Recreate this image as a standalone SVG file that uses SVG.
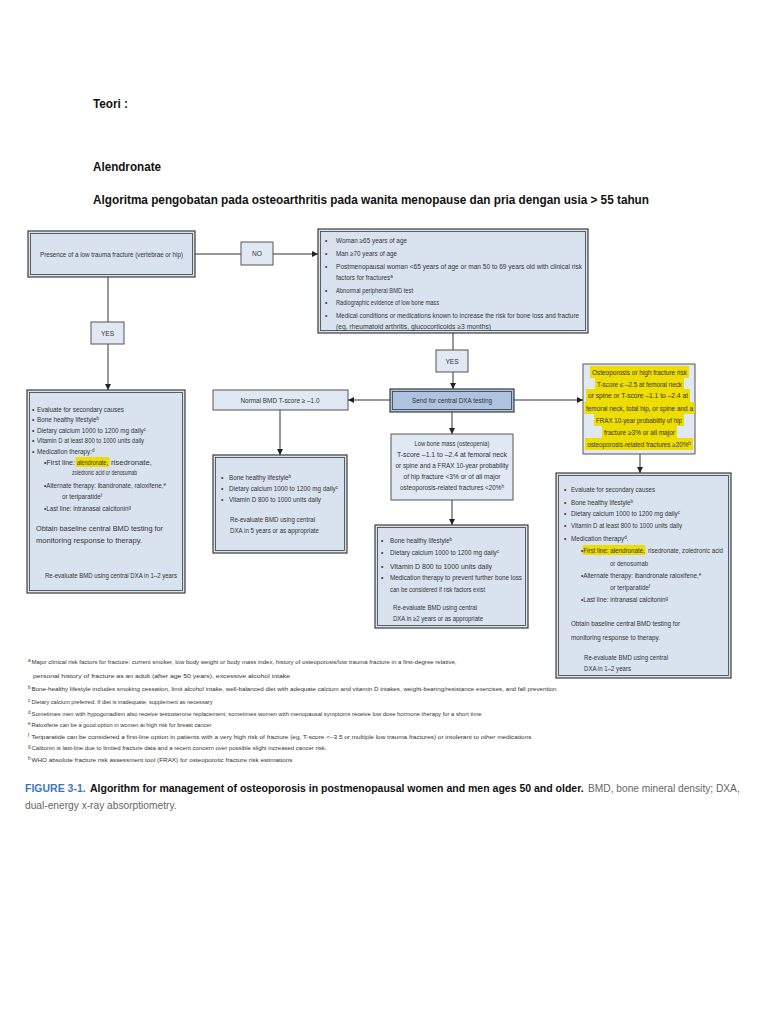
<svg xmlns="http://www.w3.org/2000/svg" width="768" height="1024" viewBox="0 0 768 1024">
<style>
.bg{fill:#ffffff}
.title{font-family:"Liberation Sans",Arial,sans-serif;font-weight:bold;font-size:12px;fill:#111}
.t{font-family:"Liberation Sans",Arial,sans-serif;font-size:6.6px;fill:#333}
.ts{font-family:"Liberation Sans",Arial,sans-serif;font-size:6.3px;fill:#333}
.tc{font-family:"Liberation Sans",Arial,sans-serif;font-size:6.6px;fill:#333;text-anchor:middle}
.fn{font-family:"Liberation Sans",Arial,sans-serif;font-size:6px;fill:#333}
.sp{font-family:"Liberation Sans",Arial,sans-serif;font-size:4.5px;fill:#333}
.sup{font-size:4.5px}
.outer{fill:#d9e3f0;stroke:#3c3c3c;stroke-width:1.2}
.inner{fill:none;stroke:#3c3c3c;stroke-width:0.8}
.single{fill:#dfe8f3;stroke:#555;stroke-width:1}
.dark{fill:#aec3df}
.hl{fill:#eedd00}
.conn{stroke:#333;stroke-width:1;fill:none}
.cap1{font-family:"Liberation Sans",Arial,sans-serif;font-weight:bold;font-size:10.5px;fill:#3d77b8}
.cap2{font-family:"Liberation Sans",Arial,sans-serif;font-weight:bold;font-size:10.5px;fill:#111}
.cap3{font-family:"Liberation Sans",Arial,sans-serif;font-size:10.2px;fill:#666}
</style>
<defs>
<marker id="arr" markerUnits="userSpaceOnUse" markerWidth="6" markerHeight="6" refX="6" refY="3" orient="auto">
<path d="M0,0 L6,3 L0,6 z" fill="#222"/>
</marker>
</defs>
<rect class="bg" x="0" y="0" width="768" height="1024"/>

<g id="heading">
<text class="title" x="93" y="108" textLength="35" lengthAdjust="spacingAndGlyphs">Teori :</text>
<text class="title" x="93" y="171" textLength="68" lengthAdjust="spacingAndGlyphs">Alendronate</text>
<text class="title" x="93" y="204" textLength="556" lengthAdjust="spacingAndGlyphs">Algoritma pengobatan pada osteoarthritis pada wanita menopause dan pria dengan usia &gt; 55 tahun</text>
</g>

<g id="connectors">
<line class="conn" x1="195" y1="254" x2="241" y2="254"/>
<line class="conn" x1="273" y1="254" x2="318" y2="254" marker-end="url(#arr)"/>
<line class="conn" x1="108" y1="277" x2="108" y2="322"/>
<line class="conn" x1="108" y1="344" x2="108" y2="390" marker-end="url(#arr)"/>
<line class="conn" x1="453" y1="333" x2="453" y2="350"/>
<line class="conn" x1="453" y1="372" x2="453" y2="389" marker-end="url(#arr)"/>
<line class="conn" x1="390" y1="400" x2="348" y2="400" marker-end="url(#arr)"/>
<line class="conn" x1="280" y1="410" x2="280" y2="455" marker-end="url(#arr)"/>
<line class="conn" x1="452" y1="412" x2="452" y2="434" marker-end="url(#arr)"/>
<line class="conn" x1="452" y1="500" x2="452" y2="525" marker-end="url(#arr)"/>
<line class="conn" x1="514" y1="400" x2="583" y2="400" marker-end="url(#arr)"/>
<line class="conn" x1="640" y1="454" x2="640" y2="473" marker-end="url(#arr)"/>
</g>

<g id="n-fracture">
<rect class="outer" x="28" y="231" width="167" height="46"/>
<rect class="inner" x="30.5" y="233.5" width="162" height="41"/>
<text class="tc" x="111.5" y="256.5" textLength="143" lengthAdjust="spacingAndGlyphs">Presence of a low trauma fracture (vertebrae or hip)</text>
</g>

<g id="n-no">
<rect class="single" x="241" y="242" width="32" height="23"/>
<text class="tc" x="257" y="256">NO</text>
</g>

<g id="n-yes1">
<rect class="single" x="91" y="322" width="33" height="22"/>
<text class="tc" x="107.5" y="335.5">YES</text>
</g>

<g id="n-risk">
<rect class="outer" x="318" y="229" width="270" height="104"/>
<rect class="inner" x="320.5" y="231.5" width="265" height="99"/>
<text class="t" x="325" y="243">•</text>
<text class="t" x="325" y="256">•</text>
<text class="t" x="325" y="269">•</text>
<text class="t" x="325" y="293">•</text>
<text class="t" x="325" y="305">•</text>
<text class="t" x="325" y="318">•</text>
<text class="t" x="336" y="243" textLength="71" lengthAdjust="spacingAndGlyphs">Woman ≥65 years of age</text>
<text class="t" x="336" y="256" textLength="61" lengthAdjust="spacingAndGlyphs">Man ≥70 years of age</text>
<text class="t" x="336" y="269" textLength="246" lengthAdjust="spacingAndGlyphs">Postmenopausal woman &lt;65 years of age or man 50 to 69 years old with clinical risk</text>
<text class="ts" x="336" y="280">factors for fractures<tspan class="sup" dy="-2">a</tspan></text>
<text class="t" x="336" y="293" textLength="77" lengthAdjust="spacingAndGlyphs">Abnormal peripheral BMD test</text>
<text class="t" x="336" y="305" textLength="103" lengthAdjust="spacingAndGlyphs">Radiographic evidence of low bone mass</text>
<text class="t" x="336" y="318" textLength="243" lengthAdjust="spacingAndGlyphs">Medical conditions or medications known to increase the risk for bone loss and fracture</text>
<text class="t" x="336" y="329" textLength="155" lengthAdjust="spacingAndGlyphs">(eg, rheumatoid arthritis, glucocorticoids ≥3 months)</text>
</g>

<g id="n-yes2">
<rect class="single" x="436" y="350" width="32" height="22"/>
<text class="tc" x="452" y="363.5">YES</text>
</g>

<g id="n-fracture-tx">
<rect class="outer" x="27" y="390" width="158" height="203"/>
<rect class="inner" x="29.5" y="392.5" width="153" height="198"/>
<rect class="hl" x="75.5" y="457" width="34" height="10" rx="2"/>
<text class="t" x="32" y="411.5">•</text>
<text class="t" x="32" y="421.5">•</text>
<text class="t" x="32" y="432.5">•</text>
<text class="t" x="32" y="442.5">•</text>
<text class="t" x="32" y="453.5">•</text>
<text class="t" x="37" y="411.5" textLength="87" lengthAdjust="spacingAndGlyphs">Evaluate for secondary causes</text>
<text class="ts" x="37" y="421.5">Bone healthy lifestyle<tspan class="sup" dy="-2">b</tspan></text>
<text class="ts" x="37" y="432.5">Dietary calcium 1000 to 1200 mg daily<tspan class="sup" dy="-2">c</tspan></text>
<text class="t" x="37" y="442.5" textLength="107" lengthAdjust="spacingAndGlyphs">Vitamin D at least 800 to 1000 units daily</text>
<text class="ts" x="37" y="453.5">Medication therapy:<tspan class="sup" dy="-2">d</tspan></text>
<text class="t" x="44" y="464.5" textLength="31" lengthAdjust="spacingAndGlyphs">•First line:</text>
<text class="t" x="77" y="464.5" textLength="31" lengthAdjust="spacingAndGlyphs">alendronate,</text>
<text class="t" x="111" y="464.5" textLength="41" lengthAdjust="spacingAndGlyphs">risedronate,</text>
<text class="t" x="72" y="474.5" textLength="65" lengthAdjust="spacingAndGlyphs">zoledronic acid or denosumab</text>
<text class="ts" x="44" y="487.5">•Alternate therapy: ibandronate, raloxifene,<tspan class="sup" dy="-2">e</tspan></text>
<text class="ts" x="62" y="498.5">or teriparatide<tspan class="sup" dy="-2">f</tspan></text>
<text class="ts" x="44" y="510.5">•Last line: intranasal calcitonin<tspan class="sup" dy="-2">g</tspan></text>
<text class="t" x="36" y="530.5" textLength="127" lengthAdjust="spacingAndGlyphs">Obtain baseline central BMD testing for</text>
<text class="t" x="36" y="542.5" textLength="106" lengthAdjust="spacingAndGlyphs">monitoring response to therapy.</text>
<text class="t" x="45" y="577.5" textLength="132" lengthAdjust="spacingAndGlyphs">Re-evaluate BMD using central DXA in 1–2 years</text>
</g>

<g id="n-normal">
<rect class="single" x="213" y="390" width="135" height="20"/>
<text class="tc" x="280" y="402.5" textLength="79" lengthAdjust="spacingAndGlyphs">Normal BMD T-score ≥ –1.0</text>
</g>

<g id="n-dxa">
<rect class="outer dark" x="390" y="389" width="124" height="23"/>
<rect class="inner" x="392.5" y="391.5" width="119" height="18"/>
<text class="tc" x="452" y="403" textLength="80" lengthAdjust="spacingAndGlyphs">Send for central DXA testing</text>
</g>

<g id="n-normal-tx">
<rect class="outer" x="213" y="455" width="134" height="98"/>
<rect class="inner" x="215.5" y="457.5" width="129" height="93"/>
<text class="t" x="221" y="479.5">•</text>
<text class="t" x="221" y="490.5">•</text>
<text class="t" x="221" y="501.5">•</text>
<text class="ts" x="229" y="479.5">Bone healthy lifestyle<tspan class="sup" dy="-2">b</tspan></text>
<text class="ts" x="229" y="490.5">Dietary calcium 1000 to 1200 mg daily<tspan class="sup" dy="-2">c</tspan></text>
<text class="t" x="229" y="501.5" textLength="92" lengthAdjust="spacingAndGlyphs">Vitamin D 800 to 1000 units daily</text>
<text class="t" x="230" y="521.5" textLength="85" lengthAdjust="spacingAndGlyphs">Re-evaluate BMD using central</text>
<text class="t" x="230" y="532.5" textLength="89" lengthAdjust="spacingAndGlyphs">DXA in 5 years or as appropriate</text>
</g>

<g id="n-lowbone">
<rect class="single" x="391" y="434" width="122" height="66"/>
<text class="tc" x="452" y="445.5" textLength="75" lengthAdjust="spacingAndGlyphs">Low bone mass (osteopenia)</text>
<text class="tc" x="452" y="456.5" textLength="110" lengthAdjust="spacingAndGlyphs">T-score –1.1 to –2.4 at femoral neck</text>
<text class="tc" x="452" y="467.5" textLength="113" lengthAdjust="spacingAndGlyphs">or spine and a FRAX 10-year probability</text>
<text class="tc" x="452" y="478.5" textLength="97" lengthAdjust="spacingAndGlyphs">of hip fracture &lt;3% or of all major</text>
<text class="ts" x="452" y="489.5" text-anchor="middle">osteoporosis-related fractures &lt;20%<tspan class="sup" dy="-2">h</tspan></text>
</g>

<g id="n-lowbone-tx">
<rect class="outer" x="375" y="525" width="153" height="103"/>
<rect class="inner" x="377.5" y="527.5" width="148" height="98"/>
<text class="t" x="381" y="542.5">•</text>
<text class="t" x="381" y="554.5">•</text>
<text class="t" x="381" y="568.5">•</text>
<text class="t" x="381" y="579.5">•</text>
<text class="ts" x="390" y="542.5">Bone healthy lifestyle<tspan class="sup" dy="-2">b</tspan></text>
<text class="ts" x="390" y="554.5">Dietary calcium 1000 to 1200 mg daily<tspan class="sup" dy="-2">c</tspan></text>
<text class="t" x="390" y="568.5" textLength="102" lengthAdjust="spacingAndGlyphs">Vitamin D 800 to 1000 units daily</text>
<text class="t" x="390" y="579.5" textLength="132" lengthAdjust="spacingAndGlyphs">Medication therapy to prevent further bone loss</text>
<text class="t" x="390" y="591.5" textLength="95" lengthAdjust="spacingAndGlyphs">can be considered if risk factors exist</text>
<text class="t" x="393" y="609.5" textLength="84" lengthAdjust="spacingAndGlyphs">Re-evaluate BMD using central</text>
<text class="t" x="393" y="620.5" textLength="90" lengthAdjust="spacingAndGlyphs">DXA in ≥2 years or as appropriate</text>
</g>

<g id="n-osteo">
<rect class="single" x="583" y="364" width="112" height="90" fill="#e2eaf5"/>
<rect class="hl" x="590" y="366" width="99" height="12"/>
<rect class="hl" x="595" y="378" width="89" height="12"/>
<rect class="hl" x="586" y="389" width="104" height="13"/>
<rect class="hl" x="584.5" y="402" width="110" height="12"/>
<rect class="hl" x="594" y="414" width="90" height="12"/>
<rect class="hl" x="602" y="426" width="75" height="12"/>
<rect class="hl" x="585" y="438" width="108" height="12"/>
<text class="tc" x="639.5" y="374.5" textLength="95" lengthAdjust="spacingAndGlyphs">Osteoporosis or high fracture risk</text>
<text class="tc" x="639.5" y="386.5" textLength="85" lengthAdjust="spacingAndGlyphs">T-score ≤ –2.5 at femoral neck</text>
<text class="tc" x="638" y="397.5" textLength="100" lengthAdjust="spacingAndGlyphs">or spine or T-score –1.1 to –2.4 at</text>
<text class="tc" x="639.5" y="410.5" textLength="107" lengthAdjust="spacingAndGlyphs">femoral neck, total hip, or spine and a</text>
<text class="tc" x="639" y="422.5" textLength="86" lengthAdjust="spacingAndGlyphs">FRAX 10-year probability of hip</text>
<text class="tc" x="639.5" y="434.5" textLength="71" lengthAdjust="spacingAndGlyphs">fracture ≥3% or all major</text>
<text class="ts" x="639" y="446.5" text-anchor="middle">osteoporosis-related fractures ≥20%<tspan class="sup" dy="-2">h</tspan></text>
</g>

<g id="n-osteo-tx">
<rect class="outer" x="556" y="473" width="175" height="205"/>
<rect class="inner" x="558.5" y="475.5" width="170" height="200"/>
<rect class="hl" x="582.5" y="545" width="63" height="10" rx="2"/>
<text class="t" x="564" y="491.5">•</text>
<text class="t" x="564" y="504.5">•</text>
<text class="t" x="564" y="515.5">•</text>
<text class="t" x="564" y="527.5">•</text>
<text class="t" x="564" y="540.5">•</text>
<text class="t" x="571" y="491.5" textLength="84" lengthAdjust="spacingAndGlyphs">Evaluate for secondary causes</text>
<text class="ts" x="571" y="504.5">Bone healthy lifestyle<tspan class="sup" dy="-2">b</tspan></text>
<text class="ts" x="571" y="515.5">Dietary calcium 1000 to 1200 mg daily<tspan class="sup" dy="-2">c</tspan></text>
<text class="t" x="571" y="527.5" textLength="111" lengthAdjust="spacingAndGlyphs">Vitamin D at least 800 to 1000 units daily</text>
<text class="ts" x="571" y="540.5">Medication therapy<tspan class="sup" dy="-2">d</tspan><tspan dy="2">.</tspan></text>
<text class="t" x="581" y="552.5" textLength="64" lengthAdjust="spacingAndGlyphs">•First line: alendronate,</text>
<text class="t" x="648" y="552.5" textLength="75" lengthAdjust="spacingAndGlyphs">risedronate, zoledronic acid</text>
<text class="t" x="610" y="565.5" textLength="38" lengthAdjust="spacingAndGlyphs">or denosumab</text>
<text class="ts" x="581" y="577.5">•Alternate therapy: ibandronate raloxifene,<tspan class="sup" dy="-2">e</tspan></text>
<text class="ts" x="610" y="589.5">or teriparatide<tspan class="sup" dy="-2">f</tspan></text>
<text class="ts" x="581" y="601.5">•Last line: intranasal calcitonin<tspan class="sup" dy="-2">g</tspan></text>
<text class="t" x="571" y="625.5" textLength="109" lengthAdjust="spacingAndGlyphs">Obtain baseline central BMD testing for</text>
<text class="t" x="571" y="639.5" textLength="89" lengthAdjust="spacingAndGlyphs">monitoring response to therapy.</text>
<text class="t" x="584" y="659.5" textLength="84" lengthAdjust="spacingAndGlyphs">Re-evaluate BMD using central</text>
<text class="t" x="584" y="670.5" textLength="47" lengthAdjust="spacingAndGlyphs">DXA in 1–2 years</text>
</g>

<g id="footnotes">
<text class="sp" x="28" y="662">a</text>
<text class="fn" x="31.5" y="664" textLength="425" lengthAdjust="spacingAndGlyphs">Major clinical risk factors for fracture:  current smoker, low body weight or body mass index, history of osteoporosis/low trauma fracture in a first-degree relative,</text>
<text class="fn" x="33" y="678" textLength="257" lengthAdjust="spacingAndGlyphs">personal history of fracture as an adult (after age 50 years), excessive alcohol intake</text>
<text class="sp" x="28" y="689">b</text>
<text class="fn" x="31.5" y="691" textLength="525" lengthAdjust="spacingAndGlyphs">Bone-healthy lifestyle includes smoking cessation, limit alcohol intake, well-balanced diet with adequate calcium and vitamin D intakes, weight-bearing/resistance exercises, and fall prevention</text>
<text class="sp" x="28" y="702">c</text>
<text class="fn" x="31.5" y="704" textLength="181" lengthAdjust="spacingAndGlyphs">Dietary calcium preferred. If diet is inadequate, supplement as necessary</text>
<text class="sp" x="28" y="714">d</text>
<text class="fn" x="31.5" y="716" textLength="450" lengthAdjust="spacingAndGlyphs">Sometimes men with hypogonadism also receive testosterone replacement; sometimes women with menopausal symptoms receive low dose hormone therapy for a short time</text>
<text class="sp" x="28" y="725">e</text>
<text class="fn" x="31.5" y="727" textLength="180" lengthAdjust="spacingAndGlyphs">Raloxifene can be a good option in women at high risk for breast cancer</text>
<text class="sp" x="28" y="737">f</text>
<text class="fn" x="31.5" y="739" textLength="500" lengthAdjust="spacingAndGlyphs">Teriparatide can be considered a first-line option in patients with a very high risk of fracture (eg, T-score &lt;–3.5 or multiple low trauma fractures) or intolerant to other medications</text>
<text class="sp" x="28" y="748">g</text>
<text class="fn" x="31.5" y="750" textLength="295" lengthAdjust="spacingAndGlyphs">Calitonin is last-line due to limited fracture data and a recent concern over possible slight increased cancer risk.</text>
<text class="sp" x="28" y="760">h</text>
<text class="fn" x="31.5" y="762" textLength="261" lengthAdjust="spacingAndGlyphs">WHO absolute fracture risk assessment tool (FRAX) for osteoporotic fracture risk estimations</text>
</g>

<g id="caption">
<text class="cap1" x="25" y="792">FIGURE 3-1.</text>
<text class="cap2" x="90" y="792">Algorithm for management of osteoporosis in postmenopausal women and men ages 50 and older.</text>
<text class="cap3" x="588" y="792">BMD, bone mineral density; DXA,</text>
<text class="cap3" x="25" y="809">dual-energy x-ray absorptiometry.</text>
</g>
</svg>
